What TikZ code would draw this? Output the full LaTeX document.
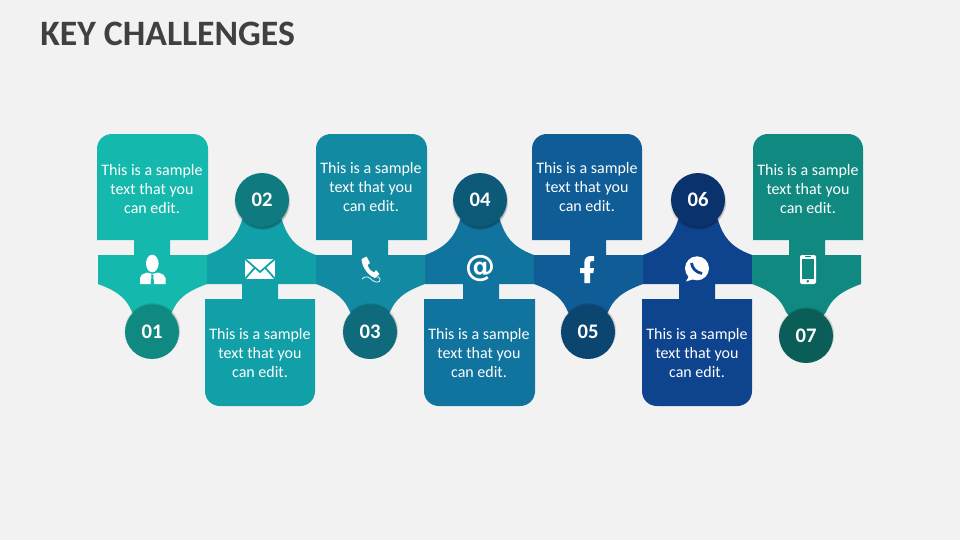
\documentclass[tikz,border=0pt]{standalone}
\usepackage{fontspec}
\setmainfont{Carlito}
\newfontfamily\iconfont{DejaVu Sans}
\usetikzlibrary{shadows}
\definecolor{kcpage}{RGB}{242,242,242}
\definecolor{kctitle}{RGB}{64,64,64}
\definecolor{kcone}{RGB}{21,184,173}
\definecolor{kconedark}{RGB}{16,138,128}
\definecolor{kctwo}{RGB}{18,160,168}
\definecolor{kctwodark}{RGB}{15,122,128}
\definecolor{kcthree}{RGB}{18,138,162}
\definecolor{kcthreedark}{RGB}{15,106,124}
\definecolor{kcfour}{RGB}{16,116,158}
\definecolor{kcfourdark}{RGB}{12,90,120}
\definecolor{kcfive}{RGB}{15,92,150}
\definecolor{kcfivedark}{RGB}{11,70,112}
\definecolor{kcsix}{RGB}{14,67,142}
\definecolor{kcsixdark}{RGB}{10,50,108}
\definecolor{kcseven}{RGB}{16,138,128}
\definecolor{kcsevendark}{RGB}{11,94,88}
\tikzstyle{sampletext} = [text=white, align=center, font=\fontsize{12}{14.25}\selectfont, inner sep=0pt]
\tikzstyle{numlower} = [circle, minimum size=40.5pt, inner sep=0pt, text=white, font=\fontsize{15.5}{15.5}\selectfont\bfseries, circular drop shadow={shadow scale=1.05, shadow xshift=0pt, shadow yshift=1pt, opacity=.45, fill=black}]
\tikzstyle{numupper} = [circle, minimum size=40.5pt, inner sep=0pt, text=white, font=\fontsize{15.5}{15.5}\selectfont\bfseries, circular drop shadow={shadow scale=1.05, shadow xshift=0pt, shadow yshift=-1.2pt, opacity=.45, fill=black}]
% colour, box left, box right, band left, band right, neck centre, circle centre
\newcommand{\pieceup}[7]{
\fill[#1] (#2,240) -- (#2,149) .. controls (#2,140) and (#2+7,134) .. (#2+15,134) -- (#3-15,134) .. controls (#3-7,134) and (#3,140) .. (#3,149) -- (#3,240) -- (#6+18,240) -- (#6+18,255) -- (#5,255) -- (#5,284) .. controls (#5-22,292) and (#7+25,300) .. (#7+20,312) -- (#7+10,325) -- (#7-10,325) -- (#7-20,312) .. controls (#7-25,300) and (#4+22,292) .. (#4,284) -- (#4,255) -- (#6-18,255) -- (#6-18,240) -- cycle;
}
\newcommand{\piecedown}[7]{
\fill[#1] (#2,299) -- (#2,391) .. controls (#2,400) and (#2+7,406) .. (#2+15,406) -- (#3-15,406) .. controls (#3-7,406) and (#3,400) .. (#3,391) -- (#3,299) -- (#6+18,299) -- (#6+18,284) -- (#5,284) -- (#5,255) .. controls (#5-22,247) and (#7+25,236) .. (#7+20,220) -- (#7+10,205) -- (#7-10,205) -- (#7-20,220) .. controls (#7-25,236) and (#4+22,247) .. (#4,255) -- (#4,284) -- (#6-18,284) -- (#6-18,299) -- cycle;
}
\begin{document}
\begin{tikzpicture}[x=0.75pt,y=-0.75pt]
\useasboundingbox (0,0) rectangle (960,540);
\fill[kcpage] (0,0) rectangle (960,540);

% Title
\node[text=kctitle, anchor=west, inner sep=0pt, font=\fontsize{26.8}{26.8}\selectfont\bfseries] (title) at (40,34) {KEY CHALLENGES};

% Pieces
\pieceup{kcone}{97}{208}{98}{207}{152}{152}
\piecedown{kctwo}{205}{315}{207}{316}{260}{262}
\pieceup{kcthree}{316}{427}{316}{425}{370}{370}
\piecedown{kcfour}{424}{535}{425}{534}{481}{480}
\pieceup{kcfive}{532}{642}{534}{643}{588}{588}
\piecedown{kcsix}{642}{752}{643}{752}{697}{698}
\pieceup{kcseven}{753}{863}{752}{861}{807}{806}

% Numbers
\node[numlower, fill=kconedark] (num1) at (152,332) {01};
\node[numupper, fill=kctwodark] (num2) at (262,200) {02};
\node[numlower, fill=kcthreedark] (num3) at (370,332) {03};
\node[numupper, fill=kcfourdark] (num4) at (480,200) {04};
\node[numlower, fill=kcfivedark] (num5) at (588,332) {05};
\node[numupper, fill=kcsixdark] (num6) at (698,200) {06};
\node[numlower, fill=kcsevendark] (num7) at (806,336) {07};

% Sample texts
\node[sampletext] (text1) at (152,189) {This is a sample\\text that you\\can edit.};
\node[sampletext] (text2) at (260,353) {This is a sample\\text that you\\can edit.};
\node[sampletext] (text3) at (371,187) {This is a sample\\text that you\\can edit.};
\node[sampletext] (text4) at (479,353) {This is a sample\\text that you\\can edit.};
\node[sampletext] (text5) at (587,187) {This is a sample\\text that you\\can edit.};
\node[sampletext] (text6) at (697,353) {This is a sample\\text that you\\can edit.};
\node[sampletext] (text7) at (808,189) {This is a sample\\text that you\\can edit.};

% Person icon
\fill[white] (152.3,263.5) ellipse (6.3 and 8.8);
\fill[white] (140,284) -- (140,278) .. controls (140,275) and (142,274.5) .. (147,272.5) -- (152.3,274) -- (158,272.5) .. controls (163,274.5) and (165.5,275) .. (165.5,278) -- (165.5,284) -- cycle;
\fill[kcone] (151,274.5) -- (153.7,274.5) -- (153.2,277) -- (154.2,284) -- (150.5,284) -- (151.5,277) -- cycle;

% Envelope icon
\fill[white] (245,259) rectangle (275,279);
\draw[kctwo, line width=1.3pt] (244,258) -- (260,272) -- (276,258);
\draw[kctwo, line width=1.3pt] (244,280) -- (254.5,268) (276,280) -- (265.5,268);

% Phone icon
\fill[white] (361.5,259) -- (366.5,256.5) -- (370,263) -- (367.5,265) .. controls (369,269) and (371,271.5) .. (374,272.5) -- (376,270) -- (379.5,274) -- (375,278) .. controls (369,276) and (362,268) .. (361.5,259) -- cycle;
\draw[white, line width=0.55pt] (362,279) .. controls (366,275) and (369,277) .. (372,280) .. controls (375,283) and (381,283) .. (380,279) .. controls (380,277) and (378,276) .. (376,277);

% At icon
\node[text=white, inner sep=0pt, font=\iconfont\fontsize{22.5}{22.5}\selectfont\bfseries] (at) at (480,269) {@};

% Facebook icon
\fill[white] (584.3,283) -- (584.3,273) -- (580,273) -- (580,268) -- (584.3,268) -- (584.3,263) .. controls (584.3,258) and (587,256) .. (591,256) -- (594,256) -- (594,261) -- (592,261) .. controls (590.5,261) and (590,262) .. (590,263.5) -- (590,268) -- (594,268) -- (593.3,273) -- (590,273) -- (590,283) -- cycle;

% WhatsApp icon
\fill[white] (697,268.3) circle (12);
\fill[white] (689,276) -- (686,281.5) -- (694,279) -- cycle;
\draw[kcsix, line width=2.1pt] (691.5,263) .. controls (692,268) and (696,272.5) .. (702,273.5);

% Mobile icon
\fill[white, rounded corners=1.5pt] (800,255) rectangle (816,284);
\fill[kcseven] (801.6,258.5) rectangle (814.4,278.5);
\fill[kcseven] (807.8,281.2) circle (1.4);
\fill[kcseven] (805,256.2) rectangle (811,257.2);
\end{tikzpicture}
\end{document}
